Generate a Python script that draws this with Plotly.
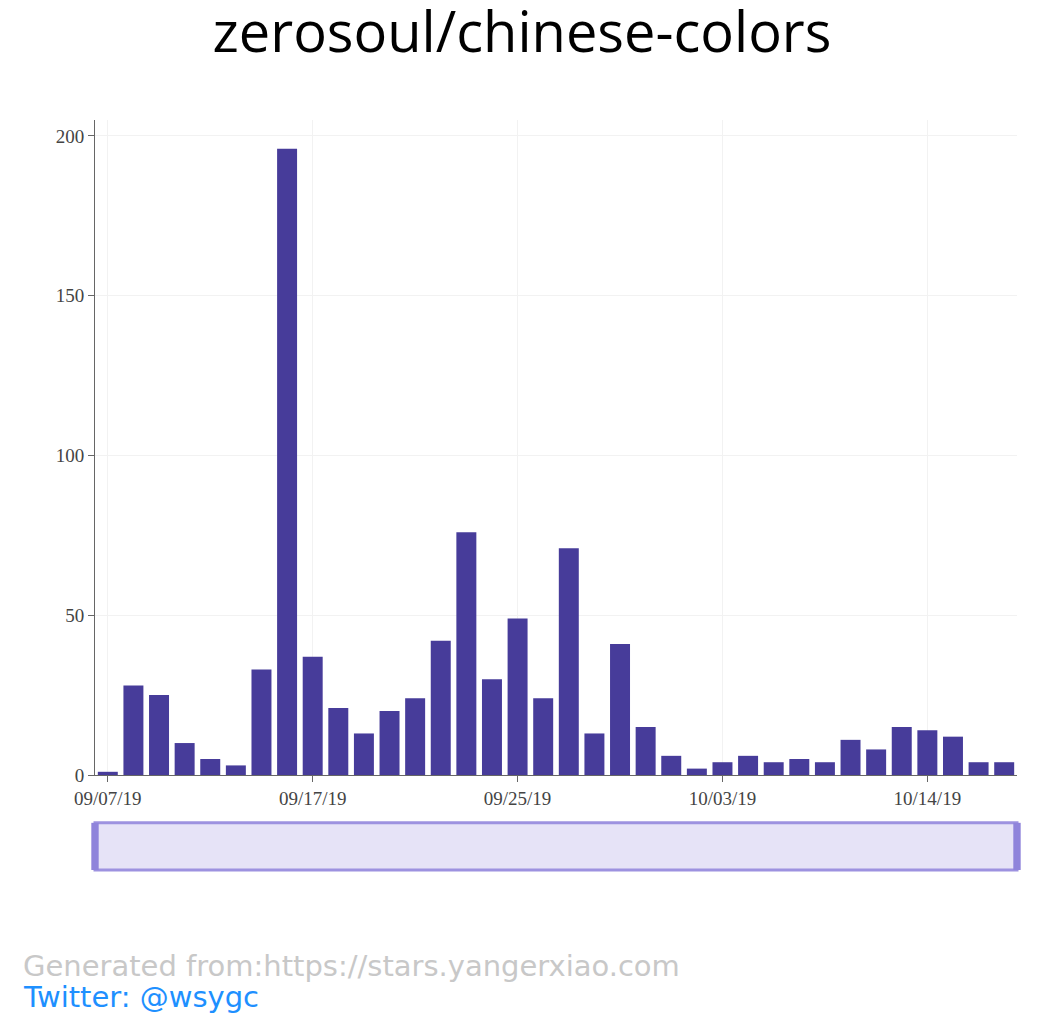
import plotly.graph_objects as go

dates = ["09/07/19", "09/08/19", "09/09/19", "09/10/19", "09/11/19", "09/13/19",
         "09/14/19", "09/16/19", "09/17/19", "09/18/19", "09/19/19", "09/20/19",
         "09/21/19", "09/22/19", "09/23/19", "09/24/19", "09/25/19", "09/26/19",
         "09/27/19", "09/28/19", "09/29/19", "09/30/19", "10/01/19", "10/02/19",
         "10/03/19", "10/04/19", "10/05/19", "10/07/19", "10/08/19", "10/10/19",
         "10/11/19", "10/13/19", "10/14/19", "10/15/19", "10/16/19", "10/17/19"]
stars = [1, 28, 25, 10, 5, 3, 33, 196, 37, 21, 13, 20, 24, 42, 76, 30, 49, 24,
         71, 13, 41, 15, 6, 2, 4, 6, 4, 5, 4, 11, 8, 15, 14, 12, 4, 4]
tick_labels = ["09/07/19", "09/17/19", "09/25/19", "10/03/19", "10/14/19"]

fig = go.Figure(go.Bar(x=dates, y=stars, marker_color="#473C9A", marker_line_width=0))

fig.update_layout(
    width=1028, height=1010,
    margin={"l": 87, "r": 19, "t": 112, "b": 243},
    paper_bgcolor="white", plot_bgcolor="white",
    bargap=0.22, showlegend=False,
    title={"text": "zerosoul/chinese-colors", "x": 0.5, "xanchor": "center",
           "y": 0.976, "yanchor": "middle",
           "font": {"family": "Open Sans, sans-serif", "size": 56, "color": "black"}},
    xaxis={"type": "category", "range": [-0.5, 35.5], "tickmode": "array",
           "tickvals": tick_labels, "ticktext": tick_labels,
           "showline": True, "linecolor": "#666", "ticks": "outside", "ticklen": 6,
           "tickcolor": "#666", "showgrid": True, "gridcolor": "#f2f2f2",
           "tickfont": {"family": "Liberation Serif, serif", "size": 19, "color": "#444"}},
    yaxis={"range": [0, 205], "tickvals": [0, 50, 100, 150, 200],
           "showline": True, "linecolor": "#666", "ticks": "outside", "ticklen": 6,
           "tickcolor": "#666", "showgrid": True, "gridcolor": "#f2f2f2", "zeroline": False,
           "tickfont": {"family": "Liberation Serif, serif", "size": 19, "color": "#444"}},
)

# data-zoom slider look-alike
fig.add_shape(type="rect", xref="paper", yref="paper", x0=0, x1=1, y0=-0.145, y1=-0.073,
              fillcolor="#e6e3f7", line={"color": "#9d92e0", "width": 3})
for xx in (0, 1):
    fig.add_shape(type="rect", xref="paper", yref="paper", x0=xx - 0.004, x1=xx + 0.004,
                  y0=-0.145, y1=-0.073, fillcolor="#8f84db", line={"width": 0})

fig.add_annotation(text="Generated from:https://stars.yangerxiao.com", xref="paper", yref="paper",
                   x=-0.08, y=-0.292, xanchor="left", yanchor="middle", showarrow=False,
                   font={"family": "DejaVu Sans, sans-serif", "size": 29, "color": "#c8c8c8"})
fig.add_annotation(text="Twitter: @wsygc", xref="paper", yref="paper",
                   x=-0.08, y=-0.339, xanchor="left", yanchor="middle", showarrow=False,
                   font={"family": "DejaVu Sans, sans-serif", "size": 29, "color": "#1e90ff"})

fig.write_html("out.html")
